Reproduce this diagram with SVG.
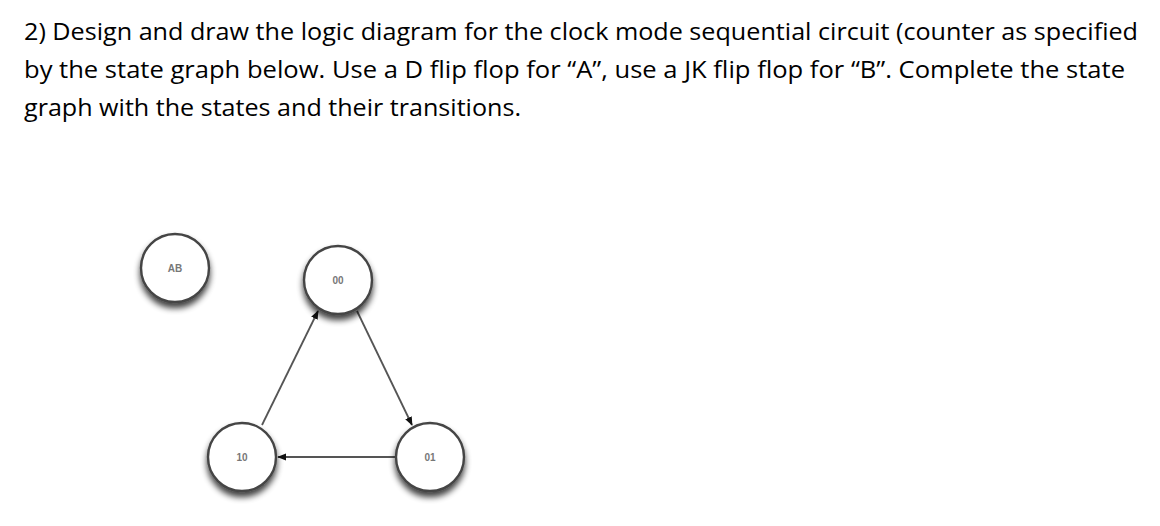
<svg xmlns="http://www.w3.org/2000/svg" width="1160" height="526" viewBox="0 0 1160 526">
<defs>
<filter id="sh" x="-40%" y="-40%" width="180%" height="190%">
<feGaussianBlur in="SourceAlpha" stdDeviation="3"/>
<feOffset dx="0" dy="5" result="b"/>
<feComponentTransfer><feFuncA type="linear" slope="0.75"/></feComponentTransfer>
<feMerge><feMergeNode/><feMergeNode in="SourceGraphic"/></feMerge>
</filter>
<marker id="arr" viewBox="0 0 10 10" refX="9" refY="5" markerWidth="9" markerHeight="9" orient="auto" markerUnits="userSpaceOnUse">
<path d="M0,1 L10,5 L0,9 z" fill="#111"/>
</marker>
</defs>
<style>
.q{font-family:"Open Sans","Liberation Sans",sans-serif;font-size:23px;fill:#000}
.st{fill:#fff;stroke:#444;stroke-width:2.4}
.lb{font-family:"Liberation Sans",Arial,sans-serif;font-size:10px;font-weight:bold;fill:#777;text-anchor:middle}
.cn{stroke:#555;stroke-width:1.8;fill:none;marker-end:url(#arr)}
</style>
<rect width="1160" height="526" fill="#fff"/>
<text class="q" x="24" y="40" textLength="1114" lengthAdjust="spacingAndGlyphs">2) Design and draw the logic diagram for the clock mode sequential circuit (counter as specified</text>
<text class="q" x="24" y="78" textLength="1101" lengthAdjust="spacingAndGlyphs">by the state graph below. Use a D flip flop for “A”, use a JK flip flop for “B”. Complete the state</text>
<text class="q" x="24" y="116" textLength="497" lengthAdjust="spacingAndGlyphs">graph with the states and their transitions.</text>
<g id="connectors">
<line class="cn" x1="262" y1="425" x2="318" y2="311"/>
<line class="cn" x1="357" y1="311" x2="412" y2="425"/>
<line class="cn" x1="395" y1="457" x2="278" y2="457"/>
</g>
<g id="node-AB"><circle class="st" cx="175" cy="268" r="34" filter="url(#sh)"/><text class="lb" x="175" y="272">AB</text></g>
<g id="node-00"><circle class="st" cx="338" cy="280" r="34" filter="url(#sh)"/><text class="lb" x="338" y="284">00</text></g>
<g id="node-10"><circle class="st" cx="242" cy="457" r="34" filter="url(#sh)"/><text class="lb" x="242" y="461">10</text></g>
<g id="node-01"><circle class="st" cx="430" cy="457" r="34" filter="url(#sh)"/><text class="lb" x="430" y="461">01</text></g>
</svg>
